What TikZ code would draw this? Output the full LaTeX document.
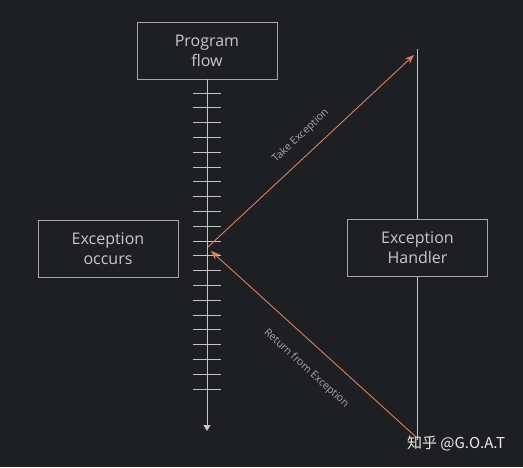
\documentclass[tikz,border=0pt]{standalone}
\usepackage{fontspec}
\setmainfont{Open Sans}
\newfontfamily\cjk{Noto Sans CJK SC}
\usetikzlibrary{arrows.meta, positioning}

\definecolor{bgdark}{HTML}{1E1F22}
\definecolor{linegray}{HTML}{C4C4C4}
\definecolor{boxgray}{HTML}{A6A6A6}
\definecolor{textgray}{HTML}{C8C8C8}
\definecolor{taggray}{HTML}{A8A8A8}
\definecolor{jumpcol}{HTML}{D98060}

\begin{document}
\begin{tikzpicture}
  [
  x=1pt, y=-1pt,
  every node/.style={text=textgray, font=\fontsize{16}{20}\selectfont},
  block/.style={draw=boxgray, fill=bgdark, line width=0.9pt, align=center,
                minimum width=140pt, minimum height=57pt, inner sep=0pt},
  flowline/.style={draw=linegray, line width=0.9pt},
  jump/.style={draw=jumpcol, line width=0.9pt, -{Stealth[length=9pt,width=7pt]}},
  tag/.style={text=taggray, font=\fontsize{10.5}{12}\selectfont, sloped}
  ]
  \fill[bgdark] (0,0) rectangle (523,467);
  \useasboundingbox (0,0) rectangle (523,467);

  % handler time line, behind its box
  \coordinate (htop) at (417,49);
  \coordinate (hbot) at (417,440);
  \draw[flowline] (htop) -- (hbot);

  \node[block] (flow)    at (207,50.5)  {Program\\flow};
  \node[block] (occurs)  at (108,248.5) {Exception\\occurs};
  \node[block] (handler) at (417.5,248) {Exception\\Handler};

  % program flow with its steps
  \coordinate (fend) at (207,431);
  \draw[flowline, -{Triangle[length=6pt,width=7pt]}] (flow.south) -- (fend);
  \foreach \i in {0,...,20}
    \draw[flowline] (193,{93+14.8*\i}) -- (221,{93+14.8*\i});

  % jumps
  \coordinate (exc)  at (208,247);
  \coordinate (hin)  at (414,55);
  \coordinate (hout) at (416,437);
  \coordinate (back) at (211,251);
  \draw[jump] (exc) -- node[tag, above=9pt, pos=0.51] {Take Exception} (hin);
  \draw[jump] (hout) -- node[tag, below=14pt, pos=0.46] {Return from Exception} (back);

  \node[text=white!92!black, font=\fontsize{15}{17}\selectfont] (mark) at (456,443)
    {\cjk 知乎 @G.O.A.T};
\end{tikzpicture}
\end{document}
